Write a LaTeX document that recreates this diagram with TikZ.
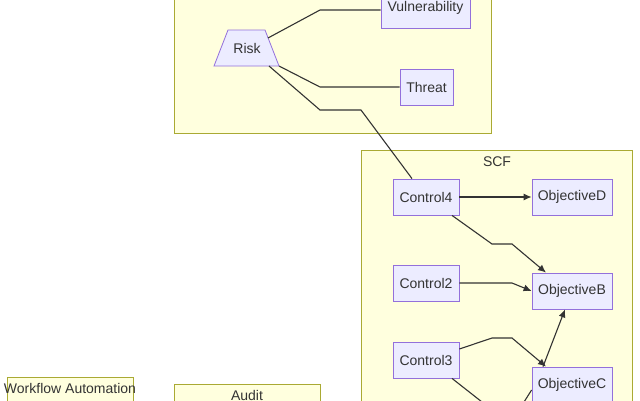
\documentclass[tikz,border=0pt]{standalone}
\usepackage{fontspec}
\setmainfont{Liberation Sans}
\usetikzlibrary{shapes.geometric,arrows.meta}
\definecolor{cl}{HTML}{FFFFDE}
\definecolor{clb}{HTML}{AAAA33}
\definecolor{nf}{HTML}{ECECFF}
\definecolor{nb}{HTML}{9370DB}
\definecolor{tx}{HTML}{333333}
\begin{document}
\begin{tikzpicture}[x=1pt,y=-1pt,
  clu/.style={draw=clb,fill=cl,line width=0.8pt},
  box/.style={draw=nb,fill=nf,line width=0.8pt,minimum width=#1,minimum height=36pt,inner sep=0pt,text=tx,font=\fontsize{14}{16}\selectfont},
  box/.default=66pt,
  lbl/.style={text=tx,font=\fontsize{14}{16}\selectfont},
  ed/.style={draw=tx,line width=1.1pt},
  ar/.style={ed,-{Latex[length=8pt,width=7pt]}}]
\useasboundingbox (0,0) rectangle (640,400);
\begin{scope}
\clip (0,0) rectangle (640,400);
\draw[clu] (174,-10) rectangle (491,133);
\draw[clu] (361,150) rectangle (632,410);
\draw[clu] (7,377) rectangle (133,410);
\draw[clu] (174,384) rectangle (320,410);
\node[lbl] (scf) at (497,162) {SCF};
\node[lbl,inner sep=0pt] (wa) at (70,388) {Workflow Automation};
\node[lbl] (au) at (247,395) {Audit};
\node[box=89pt,minimum height=40pt] (vul) at (425.5,8) {Vulnerability};
\node[box=53pt] (thr) at (426.5,87) {Threat};
\draw[draw=nb,fill=nf,line width=0.8pt] (228,30) -- (265,30) -- (279,66) -- (214,66) -- cycle;
\node[lbl] (risk) at (247,48) {Risk};
\node[box] (c4) at (426,197) {Control4};
\node[box] (c2) at (426,283) {Control2};
\node[box] (c3) at (426,360) {Control3};
\node[box=80pt] (od) at (572,197) {ObjectiveD};
\node[box=80pt] (ob) at (572,291) {ObjectiveB};
\node[box=80pt] (oc) at (572,385) {ObjectiveC};
\coordinate (r1) at (268,38);
\coordinate (r2) at (279,66);
\coordinate (r3) at (269,66);
\draw[ed] (r1) -- (320,10) -- (vul.west |- 0,10);
\draw[ed] (r2) -- (320,87) -- (thr.west);
\draw[ed] (r3) -- (320,110) -- (361,110) -- (c4.north -| 412,0);
\draw[ar] (c4.east) -- (od.west);
\draw[ar] (c4.south -| 452,0) -- (492,244) -- (512,244) -- (ob.north -| 546,0);
\draw[ar] (c2.east) -- (512,283) -- (ob.west);
\draw[ar] (c3.east |- 0,349) -- (492,338) -- (512,338) -- (oc.north -| 546,0);
\draw[ar] (oc.north -| 543,0) -- (ob.south -| 565,0);
\coordinate (e1) at (482,402);
\coordinate (e2) at (524,402);
\draw[ed] (c3.south -| 452,0) -- (e1);
\draw[ed] (oc.west |- 0,390) -- (e2);
\end{scope}
\end{tikzpicture}
\end{document}
